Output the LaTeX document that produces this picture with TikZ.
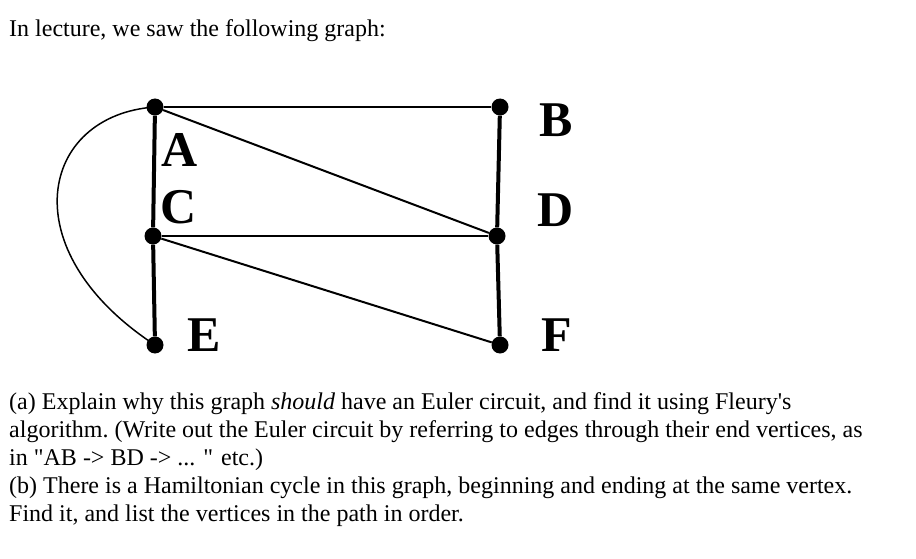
\documentclass[tikz,border=0pt]{standalone}
\usepackage{fontspec}
\setmainfont{Liberation Serif}
\begin{document}
\begin{tikzpicture}[x=1pt,y=-1pt,
  dot/.style={circle,fill=black,inner sep=0pt,minimum size=17pt},
  lab/.style={font=\fontsize{50}{50}\selectfont\bfseries,inner sep=0pt},
  thick edge/.style={line width=4pt},
  thin edge/.style={line width=2pt},
  txt/.style={anchor=west,inner sep=0pt,font=\fontsize{24}{28}\selectfont,align=left}]
\useasboundingbox (0,0) rectangle (916,559);
\node[dot] (A) at (155,107) {};
\node[dot] (B) at (500,107) {};
\node[dot] (C) at (153,236) {};
\node[dot] (D) at (497,236) {};
\node[dot] (E) at (155,345) {};
\node[dot] (F) at (500,345) {};
\draw[thick edge] (A) -- (C) -- (E);
\draw[thick edge] (B) -- (D) -- (F);
\draw[thin edge] (A) -- (B);
\draw[thin edge] (A) -- (D);
\draw[thin edge] (C) -- (D);
\draw[thin edge] (C) -- (F);
\draw[line width=1.5pt] (A.center) .. controls (40,115) and (10,250) .. (E.center);
\node[lab] (lA) at (180,150) {A};
\node[lab] (lB) at (556,120) {B};
\node[lab] (lC) at (179,207) {C};
\node[lab] (lD) at (556,210) {D};
\node[lab] (lE) at (204,335) {E};
\node[lab] (lF) at (557,335) {F};
\node[txt] (t1) at (9,31) {In lecture, we saw the following graph:};
\node[txt,anchor=north west] (t2) at (9,392) {(a) Explain why this graph \textit{should} have an Euler circuit, and find it using Fleury\textquotesingle s\\
algorithm.\ (Write out the Euler circuit by referring to edges through their end vertices, as\\
in \textquotedbl AB -> BD -> ... \textquotedbl{} etc.)\\
(b) There is a Hamiltonian cycle in this graph, beginning and ending at the same vertex.\\
Find it, and list the vertices in the path in order.};
\end{tikzpicture}
\end{document}
